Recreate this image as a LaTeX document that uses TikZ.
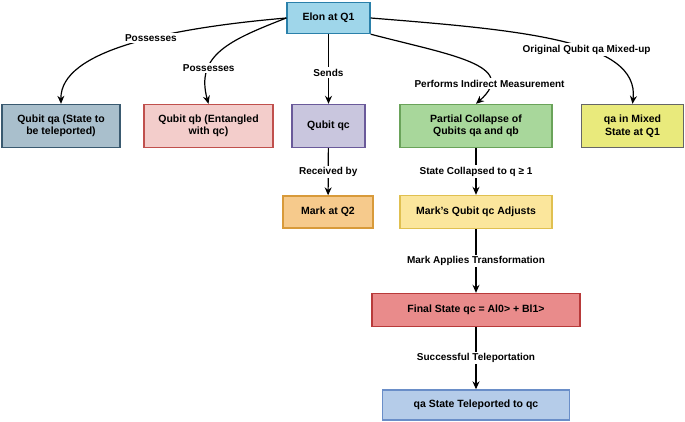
\documentclass[tikz,border=0pt]{standalone}
\usepackage{fontspec}
\setmainfont{Liberation Sans}
\usetikzlibrary{arrows.meta}
\definecolor{elonfill}{HTML}{9FD6EA}\definecolor{elondraw}{HTML}{2A80AA}
\definecolor{qafill}{HTML}{A9BFCC}\definecolor{qadraw}{HTML}{3A5A70}
\definecolor{qbfill}{HTML}{F3CDCB}\definecolor{qbdraw}{HTML}{C0504D}
\definecolor{qcfill}{HTML}{C9C6DE}\definecolor{qcdraw}{HTML}{6A5A9A}
\definecolor{pcfill}{HTML}{A8D79B}\definecolor{pcdraw}{HTML}{6AA35A}
\definecolor{mxfill}{HTML}{E9EA7C}\definecolor{mxdraw}{HTML}{666666}
\definecolor{m2fill}{HTML}{F6CA8C}\definecolor{m2draw}{HTML}{D89A3A}
\definecolor{mqfill}{HTML}{FBE69C}\definecolor{mqdraw}{HTML}{E0C050}
\definecolor{fsfill}{HTML}{E98B8B}\definecolor{fsdraw}{HTML}{B83A3A}
\definecolor{tpfill}{HTML}{B5CCE9}\definecolor{tpdraw}{HTML}{6A8EC8}
\tikzset{
  box/.style={draw, line width=1.4pt, font=\bfseries\fontsize{10.5}{12.5}\selectfont, align=center, inner sep=0pt},
  lbl/.style={fill=white, inner sep=1.5pt, font=\bfseries\fontsize{10}{12}\selectfont},
  arr/.style={-{Stealth[length=8pt,width=7pt]}, line width=1.2pt}
}
\begin{document}
\begin{tikzpicture}[x=1pt, y=-1pt]
    \useasboundingbox (0,0) rectangle (685,422);

    % --- boxes ---
    \node[box, fill=elonfill, draw=elondraw, minimum width=83pt, minimum height=31pt] (elon) at (328.5,18) {Elon at Q1};
    \node[box, fill=qafill, draw=qadraw, minimum width=118pt, minimum height=43pt] (qa) at (61,126) {Qubit qa (State to\\be teleported)};
    \node[box, fill=qbfill, draw=qbdraw, minimum width=129pt, minimum height=43pt] (qb) at (208.5,126) {Qubit qb (Entangled\\with qc)};
    \node[box, fill=qcfill, draw=qcdraw, minimum width=73pt, minimum height=43pt] (qc) at (328.5,126) {Qubit qc};
    \node[box, fill=pcfill, draw=pcdraw, minimum width=152pt, minimum height=43pt] (pc) at (476,126) {Partial Collapse of\\Qubits qa and qb};
    \node[box, fill=mxfill, draw=mxdraw, minimum width=102pt, minimum height=43pt] (mx) at (632.5,126) {qa in Mixed\\State at Q1};
    \node[box, fill=m2fill, draw=m2draw, minimum width=90pt, minimum height=32pt] (m2) at (328,212) {Mark at Q2};
    \node[box, fill=mqfill, draw=mqdraw, minimum width=152pt, minimum height=33pt] (mq) at (476,212) {Mark's Qubit qc Adjusts};
    \node[box, fill=fsfill, draw=fsdraw, minimum width=208pt, minimum height=33pt] (fs) at (476,310) {Final State qc = Al0> + Bl1>};
    \node[box, fill=tpfill, draw=tpdraw, minimum width=187pt, minimum height=30pt] (tp) at (476,405) {qa State Teleported to qc};

    % --- connectors ---
    \draw[arr] (elon.west) .. controls (170,28) and (60,50) .. node[lbl, pos=0.42] {Possesses} (qa.north);
    \draw[arr] (elon.west) .. controls (230,40) and (195,55) .. node[lbl, pos=0.7] {Possesses} (qb.north);
    \draw[arr] (elon) -- node[lbl, pos=0.55] {Sends} (qc);
    \draw[arr] (elon.south east) .. controls (450,55) and (520,65) .. node[lbl, pos=0.8] {Performs Indirect Measurement} (pc.north);
    \draw[arr] (elon.east) .. controls (520,30) and (640,40) .. node[lbl, pos=0.6] {Original Qubit qa Mixed-up} (mx.north);
    \draw[arr] (qc) -- node[lbl] {Received by} (m2);
    \draw[arr] (pc) -- node[lbl] {State Collapsed to q ≥ 1} (mq);
    \draw[arr] (mq) -- node[lbl] {Mark Applies Transformation} (fs);
    \draw[arr] (fs) -- node[lbl] {Successful Teleportation} (tp);
\end{tikzpicture}
\end{document}
